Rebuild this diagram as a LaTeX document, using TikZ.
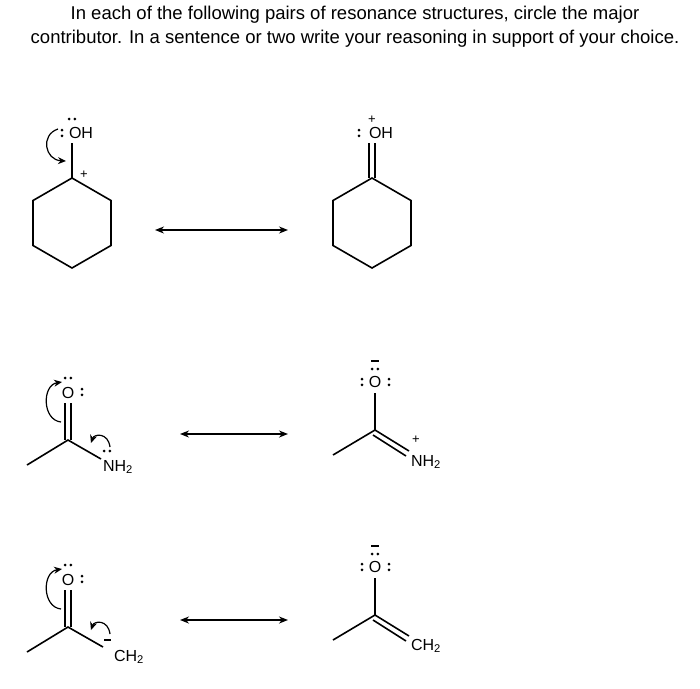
\documentclass[tikz,border=0pt]{standalone}
\usepackage{fontspec}
\setmainfont{Liberation Sans}
\usetikzlibrary{arrows.meta,calc}
\begin{document}
\begin{tikzpicture}[x=1pt,y=-1pt,
  bond/.style={line width=1.6pt},
  atom/.style={font=\fontsize{16}{18}\selectfont, inner sep=0pt},
  small/.style={font=\fontsize{13}{14}\selectfont, inner sep=0pt},
  curly/.style={line width=1.2pt,-{Stealth[length=8pt,width=7pt]}},
  reson/.style={line width=1.4pt,{Stealth[length=9pt,width=7pt]}-{Stealth[length=9pt,width=7pt]}}]
\useasboundingbox (0,0) rectangle (700,688);
\newcommand{\hpair}[2]{\fill (#1-2.8,#2) circle (1.5) (#1+2.8,#2) circle (1.5);}
\newcommand{\vpair}[2]{\fill (#1,#2-2.8) circle (1.5) (#1,#2+2.8) circle (1.5);}
\node[font=\fontsize{18.5}{24}\selectfont, align=center] (title) at (355,27) {In each of the following pairs of resonance structures, circle the major\\contributor. In a sentence or two write your reasoning in support of your choice.};
% ring 1
\foreach \i in {0,...,5} \coordinate (a\i) at ({72+45*sin(60*\i)},{223-45*cos(60*\i)});
\draw[bond] (a0)--(a1)--(a2)--(a3)--(a4)--(a5)--cycle;
\node[atom] (o1) at (81,133) {OH};
\draw[bond] (a0)--(72,143);
\node[small] (p1) at (84,175) {+};
\vpair{62}{133}
\hpair{72}{119}
\draw[curly] (58,129) .. controls (40,135) and (45,160) .. (66,161);
% ring 2
\foreach \i in {0,...,5} \coordinate (b\i) at ({372+45*sin(60*\i)},{223-45*cos(60*\i)});
\draw[bond] (b0)--(b1)--(b2)--(b3)--(b4)--(b5)--cycle;
\node[atom] (o2) at (381,133) {OH};
\draw[bond] (369,178)--(369,143) (375,178)--(375,143);
\node[small] (p2) at (372,120) {+};
\vpair{359}{133}
\draw[reson] (155,230)--(288,230);
% pair 2 left
\coordinate (c1) at (68,440);
\coordinate (m1) at (27,465);
\node[atom] (ol1) at (68,393) {O};
\node[atom] (n1) at (118,467) {NH\textsubscript{2}};
\draw[bond] (m1)--(c1)--(101,459);
\draw[bond] (65,440)--(65,403) (71,440)--(71,403);
\hpair{68}{378}
\vpair{82}{392}
\hpair{107}{451}
\draw[curly] (61,422) .. controls (42,420) and (42,385) .. (62,382);
\draw[curly] (110,447) .. controls (108,432) and (94,434) .. (91,443);
% pair 2 right
\coordinate (c2) at (375,430);
\coordinate (m2) at (333,455);
\node[atom] (or1) at (375,382) {O};
\node[atom] (n2) at (426,462) {NH\textsubscript{2}};
\draw[bond] (m2)--(c2) (375,393)--(c2);
\draw[bond] (c2)--(409,451) ($(c2)+(-2,5)$)--(406,456);
\node[small] (pn2) at (416,440) {+};
\vpair{362}{382}
\vpair{389}{382}
\hpair{375}{369}
\draw[line width=1.2pt] (371,361)--(379,361);
\draw[reson] (180,434)--(288,434);
% pair 3 left
\coordinate (c3) at (68,627);
\coordinate (m3) at (27,652);
\node[atom] (ol3) at (68,580) {O};
\node[atom] (ch1) at (129,657) {CH\textsubscript{2}};
\draw[bond] (m3)--(c3)--(103,647);
\draw[bond] (65,627)--(65,590) (71,627)--(71,590);
\hpair{68}{565}
\vpair{82}{579}
\draw[line width=1.2pt] (104,640)--(111,640);
\draw[curly] (61,609) .. controls (42,607) and (42,572) .. (62,569);
\draw[curly] (110,634) .. controls (108,619) and (94,621) .. (91,630);
% pair 3 right
\coordinate (c4) at (375,615);
\coordinate (m4) at (333,640);
\node[atom] (or3) at (375,567) {O};
\node[atom] (ch2) at (426,646) {CH\textsubscript{2}};
\draw[bond] (m4)--(c4) (375,578)--(c4);
\draw[bond] (c4)--(409,636) ($(c4)+(-2,5)$)--(406,641);
\vpair{362}{567}
\vpair{389}{567}
\hpair{375}{554}
\draw[line width=1.2pt] (371,546)--(379,546);
\draw[reson] (180,620)--(288,620);
\end{tikzpicture}
\end{document}
